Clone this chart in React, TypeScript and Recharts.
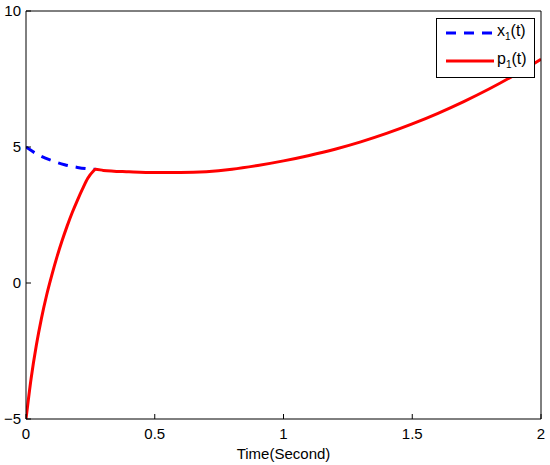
import { LineChart, Line, XAxis, YAxis, Legend, Label } from 'recharts';

const xTicks = [0, 0.5, 1, 1.5, 2];
const yTicks = [-5, 0, 5, 10];

// x1(t): dashed blue, only visible before it meets p1
const x1Time = [0, 0.05, 0.1, 0.15, 0.2, 0.25, 0.27];
const x1Values = [5.0, 4.7, 4.5, 4.35, 4.25, 4.19, 4.18];

// p1(t): solid red
const p1Time = [
  0, 0.02, 0.04, 0.06, 0.08, 0.1, 0.12, 0.14, 0.16, 0.18, 0.2, 0.22, 0.24, 0.26, 0.27,
  0.3, 0.4, 0.5, 0.6, 0.7, 0.8, 0.9, 1.0, 1.1, 1.2, 1.3, 1.4, 1.5, 1.6, 1.7, 1.8, 1.9, 2.0,
];
const p1Values = [
  -5, -3.5, -2.3, -1.3, -0.45, 0.28, 0.95, 1.55, 2.1, 2.6, 3.05, 3.47, 3.85, 4.1, 4.18,
  4.14, 4.09, 4.06, 4.06, 4.09, 4.18, 4.32, 4.49, 4.69, 4.92, 5.19, 5.5, 5.85, 6.24, 6.67, 7.14, 7.66, 8.23,
];

const x1Data = x1Time.map((t, i) => ({ t, y: x1Values[i] }));
const p1Data = p1Time.map((t, i) => ({ t, y: p1Values[i] }));

const FONT = '"Liberation Sans", Arial, sans-serif';
const font = { fontFamily: FONT, fontSize: 15, fill: '#000' };

// ticks point inward, MATLAB style
const BottomTick = (props: any) => {
  const { x, y, payload } = props;
  return (
    <g>
      <line x1={x} y1={y} x2={x} y2={y - 5} stroke="#000" />
      <text x={x} y={y + 9} dy="0.71em" textAnchor="middle" fontFamily={FONT} fontSize={15} fill="#000">
        {payload.value}
      </text>
    </g>
  );
};

const LeftTick = (props: any) => {
  const { x, y, payload } = props;
  return (
    <g>
      <line x1={x} y1={y} x2={x + 5} y2={y} stroke="#000" />
      <text x={x - 5} y={y} dy="0.355em" textAnchor="end" fontFamily={FONT} fontSize={15} fill="#000">
        {String(payload.value).replace('-', '\u2212')}
      </text>
    </g>
  );
};

const LegendBox = () => (
  <div
    style={{
      position: 'relative',
      width: 97,
      height: 58,
      border: '1px solid #000',
      background: '#fff',
      fontFamily: FONT,
      fontSize: 16,
      color: '#000',
    }}
  >
    <svg width={50} height={6} style={{ position: 'absolute', left: 8, top: 11 }}>
      <line x1={1} y1={3} x2={49} y2={3} stroke="#0000ff" strokeWidth={3} strokeDasharray="10 8" />
    </svg>
    <div style={{ position: 'absolute', left: 60, top: 3, whiteSpace: 'nowrap', lineHeight: '18px' }}>
      x<sub style={{ fontSize: 10 }}>1</sub>(t)
    </div>
    <svg width={50} height={6} style={{ position: 'absolute', left: 8, top: 39 }}>
      <line x1={1} y1={3} x2={49} y2={3} stroke="#ff0000" strokeWidth={3} />
    </svg>
    <div style={{ position: 'absolute', left: 60, top: 31, whiteSpace: 'nowrap', lineHeight: '18px' }}>
      p<sub style={{ fontSize: 10 }}>1</sub>(t)
    </div>
  </div>
);

export default function App() {
  return (
    <div style={{ position: 'absolute', left: 0, top: 0, width: 550, height: 465, background: '#fff' }}>
      <LineChart width={550} height={465} margin={{ top: 11, right: 9, bottom: 0, left: 0 }}>
        <XAxis
          dataKey="t"
          type="number"
          domain={[0, 2]}
          ticks={xTicks}
          allowDataOverflow
          height={46}
          stroke="#000"
          tickLine={false}
          tickSize={0}
          tickMargin={0}
          tick={<BottomTick />}
        >
          <Label value="Time(Second)" position="insideBottom" offset={6} style={font} />
        </XAxis>
        <XAxis
          xAxisId="top"
          orientation="top"
          mirror
          type="number"
          domain={[0, 2]}
          ticks={xTicks}
          height={1}
          stroke="#000"
          tickSize={5}
          tick={false}
        />
        <YAxis
          type="number"
          domain={[-5, 10]}
          ticks={yTicks}
          allowDataOverflow
          width={26}
          stroke="#000"
          tickLine={false}
          tickSize={0}
          tickMargin={0}
          tick={<LeftTick />}
        />
        <YAxis
          yAxisId="right"
          orientation="right"
          mirror
          type="number"
          domain={[-5, 10]}
          ticks={yTicks}
          width={1}
          stroke="#000"
          tickSize={5}
          tick={false}
        />
        <Legend
          verticalAlign="middle"
          align="center"
          layout="horizontal"
          content={() => <LegendBox />}
          wrapperStyle={{ left: 436, top: 18, width: 99, height: 60 }}
        />
        <Line
          data={x1Data}
          dataKey="y"
          name="x1(t)"
          type="monotone"
          stroke="#0000ff"
          strokeWidth={3}
          strokeDasharray="10 8"
          dot={false}
          activeDot={false}
          isAnimationActive={false}
        />
        <Line
          data={p1Data}
          dataKey="y"
          name="p1(t)"
          type="monotone"
          stroke="#ff0000"
          strokeWidth={3}
          dot={false}
          activeDot={false}
          isAnimationActive={false}
        />
      </LineChart>
    </div>
  );
}
